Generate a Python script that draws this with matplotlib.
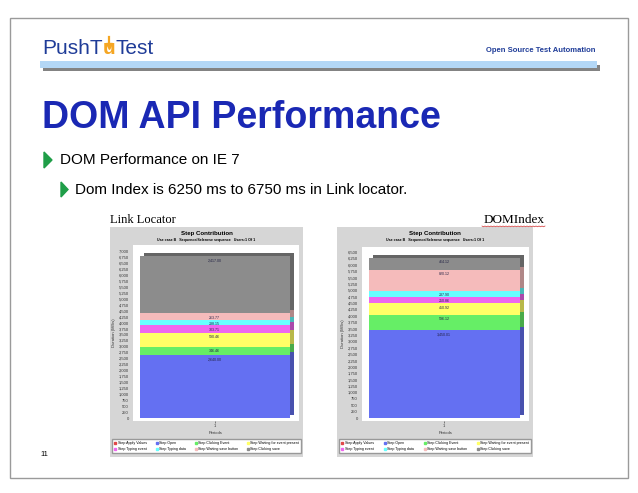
import numpy as np
import matplotlib.pyplot as plt
from matplotlib.patches import Rectangle, Polygon
from matplotlib.lines import Line2D
from matplotlib.colors import to_rgb

W, H = 638, 493

steps = ["Step Apply Values", "Step Open", "Step Clicking Event", "Step Waiting for event present",
         "Step Typing event", "Step Typing data", "Step Waiting save button", "Step Clicking save"]
step_colors = ["#E04848", "#6470F2", "#66EE66", "#FFFF66", "#EE66EE", "#66FFFF", "#F5BBBB", "#8C8C8C"]
link_values = [0.0, 2640.00, 346.46, 590.46, 303.71, 238.15, 263.77, 2417.00]
dom_values = [0.0, 3450.01, 596.12, 450.92, 250.86, 237.90, 820.12, 464.12]
link_ymax = 7000
dom_ymax = 6500
tick_step = 250
period_labels = ["1"]

logo_blue = "#1F3C98"
title_blue = "#1A28B4"
bullet_green = "#1F9E48"
icon_orange = "#F5A623"

plt.rcParams['font.family'] = ['Liberation Sans', 'DejaVu Sans']

fig = plt.figure(figsize=(W / 100, H / 100), dpi=100)
fig.patch.set_facecolor('white')


def px(x, y):
    return x / W, 1 - y / H


def box(x0, y0, x1, y1):
    return [x0 / W, 1 - y1 / H, (x1 - x0) / W, (y1 - y0) / H]


def rect(x0, y0, x1, y1, zorder=-1, **kw):
    fig.patches.append(Rectangle(px(x0, y1), (x1 - x0) / W, (y1 - y0) / H,
                                 transform=fig.transFigure, zorder=zorder, **kw))


def darker(c, f=0.72):
    r, g, b = to_rgb(c)
    return (r * f, g * f, b * f)


# slide frame
rect(10, 18, 628, 478, fill=False, edgecolor='#9A9A9A', lw=1)

# header: logo, tagline, blue bar with shadow
r = fig.canvas.get_renderer()
t = fig.text(*px(42, 54), "PushT", color=logo_blue, fontsize=15, va='baseline')
x_next = t.get_window_extent(r).x1
t2 = fig.text(x_next / W, 1 - 54 / H, "u", color=icon_orange, fontsize=15, fontweight='bold', va='baseline')
bb = t2.get_window_extent(r)
xc = (bb.x0 + bb.x1) / 2 / W
fig.add_artist(Line2D([xc, xc], [1 - 37 / H, 1 - 45 / H], color=icon_orange, lw=1.6,
                      transform=fig.transFigure))
fig.add_artist(Line2D([xc], [1 - 46 / H], marker='v', markersize=4, color=icon_orange,
                      transform=fig.transFigure))
fig.text(bb.x1 / W, 1 - 54 / H, "Test", color=logo_blue, fontsize=15, va='baseline')
fig.text(*px(595, 50), "Open Source Test Automation", color=logo_blue, fontsize=5.5,
         fontweight='bold', ha='right', va='center')
rect(43, 65, 600, 71, color='#5A5A5A', alpha=0.75, lw=0)
rect(40, 61, 597, 68, color='#B3D7F6', lw=0)

# title and bullets
fig.text(*px(42, 128), "DOM API Performance", color=title_blue, fontsize=27,
         fontweight='bold', va='baseline')
fig.patches.append(Polygon([px(44, 152), px(44, 168), px(52, 160)], closed=True,
                           transform=fig.transFigure, color=bullet_green))
fig.text(*px(60, 160), "DOM Performance on IE 7", fontsize=11, va='center')
fig.patches.append(Polygon([px(61, 182), px(61, 197), px(68, 189.5)], closed=True,
                           transform=fig.transFigure, color=bullet_green))
fig.text(*px(75, 190), "Dom Index is 6250 ms to 6750 ms in Link locator.", fontsize=11, va='center')
fig.text(*px(40, 455), "11", fontsize=5.5, va='center')

fig.text(*px(110, 220), "Link Locator", family='Liberation Serif', fontsize=9, va='center')
fig.text(*px(545, 220), "DOMIndex", family='Liberation Serif', fontsize=9.5, va='center', ha='right')
wx = np.arange(482, 546, 1.5)
wy = 226 + 0.8 * (np.arange(len(wx)) % 2)
fig.add_artist(Line2D(wx / W, 1 - wy / H, color='#D03030', lw=0.5, transform=fig.transFigure))


def draw_chart(panel, plot, values, ymax, y_top_px, y_zero_px):
    x0, y0, x1, y1 = panel
    rect(x0, y0, x1, y1, color='#D6D6D6', lw=0)
    cx = (x0 + x1) / 2
    fig.text(*px(cx, y0 + 6), "Step Contribution", fontsize=4.4, fontweight='bold', ha='center', va='center')
    fig.text(*px(cx, y0 + 13), "Use case B   Sequence/Selenese sequence   Users:1 Of 1", fontsize=2.6,
             fontweight='bold', ha='center', va='center')

    ax = fig.add_axes(box(*plot))
    ax.set_facecolor('white')
    scale = (y_zero_px - y_top_px) / ymax
    ax.set_ylim(-(plot[3] - y_zero_px) / scale, ymax + (y_top_px - plot[1]) / scale)
    ax.set_xlim(0, 1)
    for s in ax.spines.values():
        s.set_visible(False)

    bar_x, bar_w = 0.04, 0.905
    dx = 4 / (plot[2] - plot[0])
    dy = 3 / scale
    bottom = 0.0
    for v, c in zip(values, step_colors):
        if v <= 0:
            continue
        ax.bar(bar_x + dx, v, width=bar_w, bottom=bottom + dy, align='edge', color=darker(c), lw=0, zorder=1)
        ax.bar(bar_x, v, width=bar_w, bottom=bottom, align='edge', color=c, lw=0, zorder=2)
        ax.annotate(f"{v:,.2f}", (bar_x + bar_w / 2, bottom + v), xytext=(0, -1.8),
                    textcoords='offset points', ha='center', va='top', fontsize=2.6,
                    color='#222244', zorder=3)
        bottom += v

    ticks = np.arange(0, ymax + 1, tick_step)
    ax.set_yticks(ticks)
    ax.set_yticklabels([f"{int(v):,}" for v in ticks])
    ax.set_xticks([bar_x + bar_w / 2])
    ax.set_xticklabels(period_labels)
    ax.tick_params(axis='y', length=0, pad=3, labelsize=3, colors='#333333')
    ax.tick_params(axis='x', length=1.5, width=0.4, pad=1, labelsize=3, colors='#333333')
    ax.set_ylabel("Duration (Millis)", fontsize=3, labelpad=2, color='#333333')
    ax.set_xlabel("Periods", fontsize=3, labelpad=1.5, color='#333333')

    handles = [Line2D([], [], marker='s', ls='none', color=c, markersize=1.8) for c in step_colors]
    order = [0, 4, 1, 5, 2, 6, 3, 7]
    lx0, ly0, lx1, ly1 = x0 + 2, y1 - 21, x1 - 2, y1 - 4
    ax.legend([handles[i] for i in order], [steps[i] for i in order], ncol=4, loc='lower left',
              mode='expand', bbox_to_anchor=box(lx0, ly0, lx1, ly1), bbox_transform=fig.transFigure,
              fontsize=2.6, frameon=True, fancybox=False, edgecolor='#999999', framealpha=1,
              handlelength=0.8, handletextpad=0.3, columnspacing=0.5, borderpad=0.5,
              labelspacing=0.6, borderaxespad=0)
    return ax


draw_chart((110, 227, 303, 457), (133, 245, 299, 421), link_values, link_ymax, 251, 418)
draw_chart((337, 227, 533, 457), (362, 247, 529, 421), dom_values, dom_ymax, 252, 418)

fig.savefig("out.png", dpi=100)
